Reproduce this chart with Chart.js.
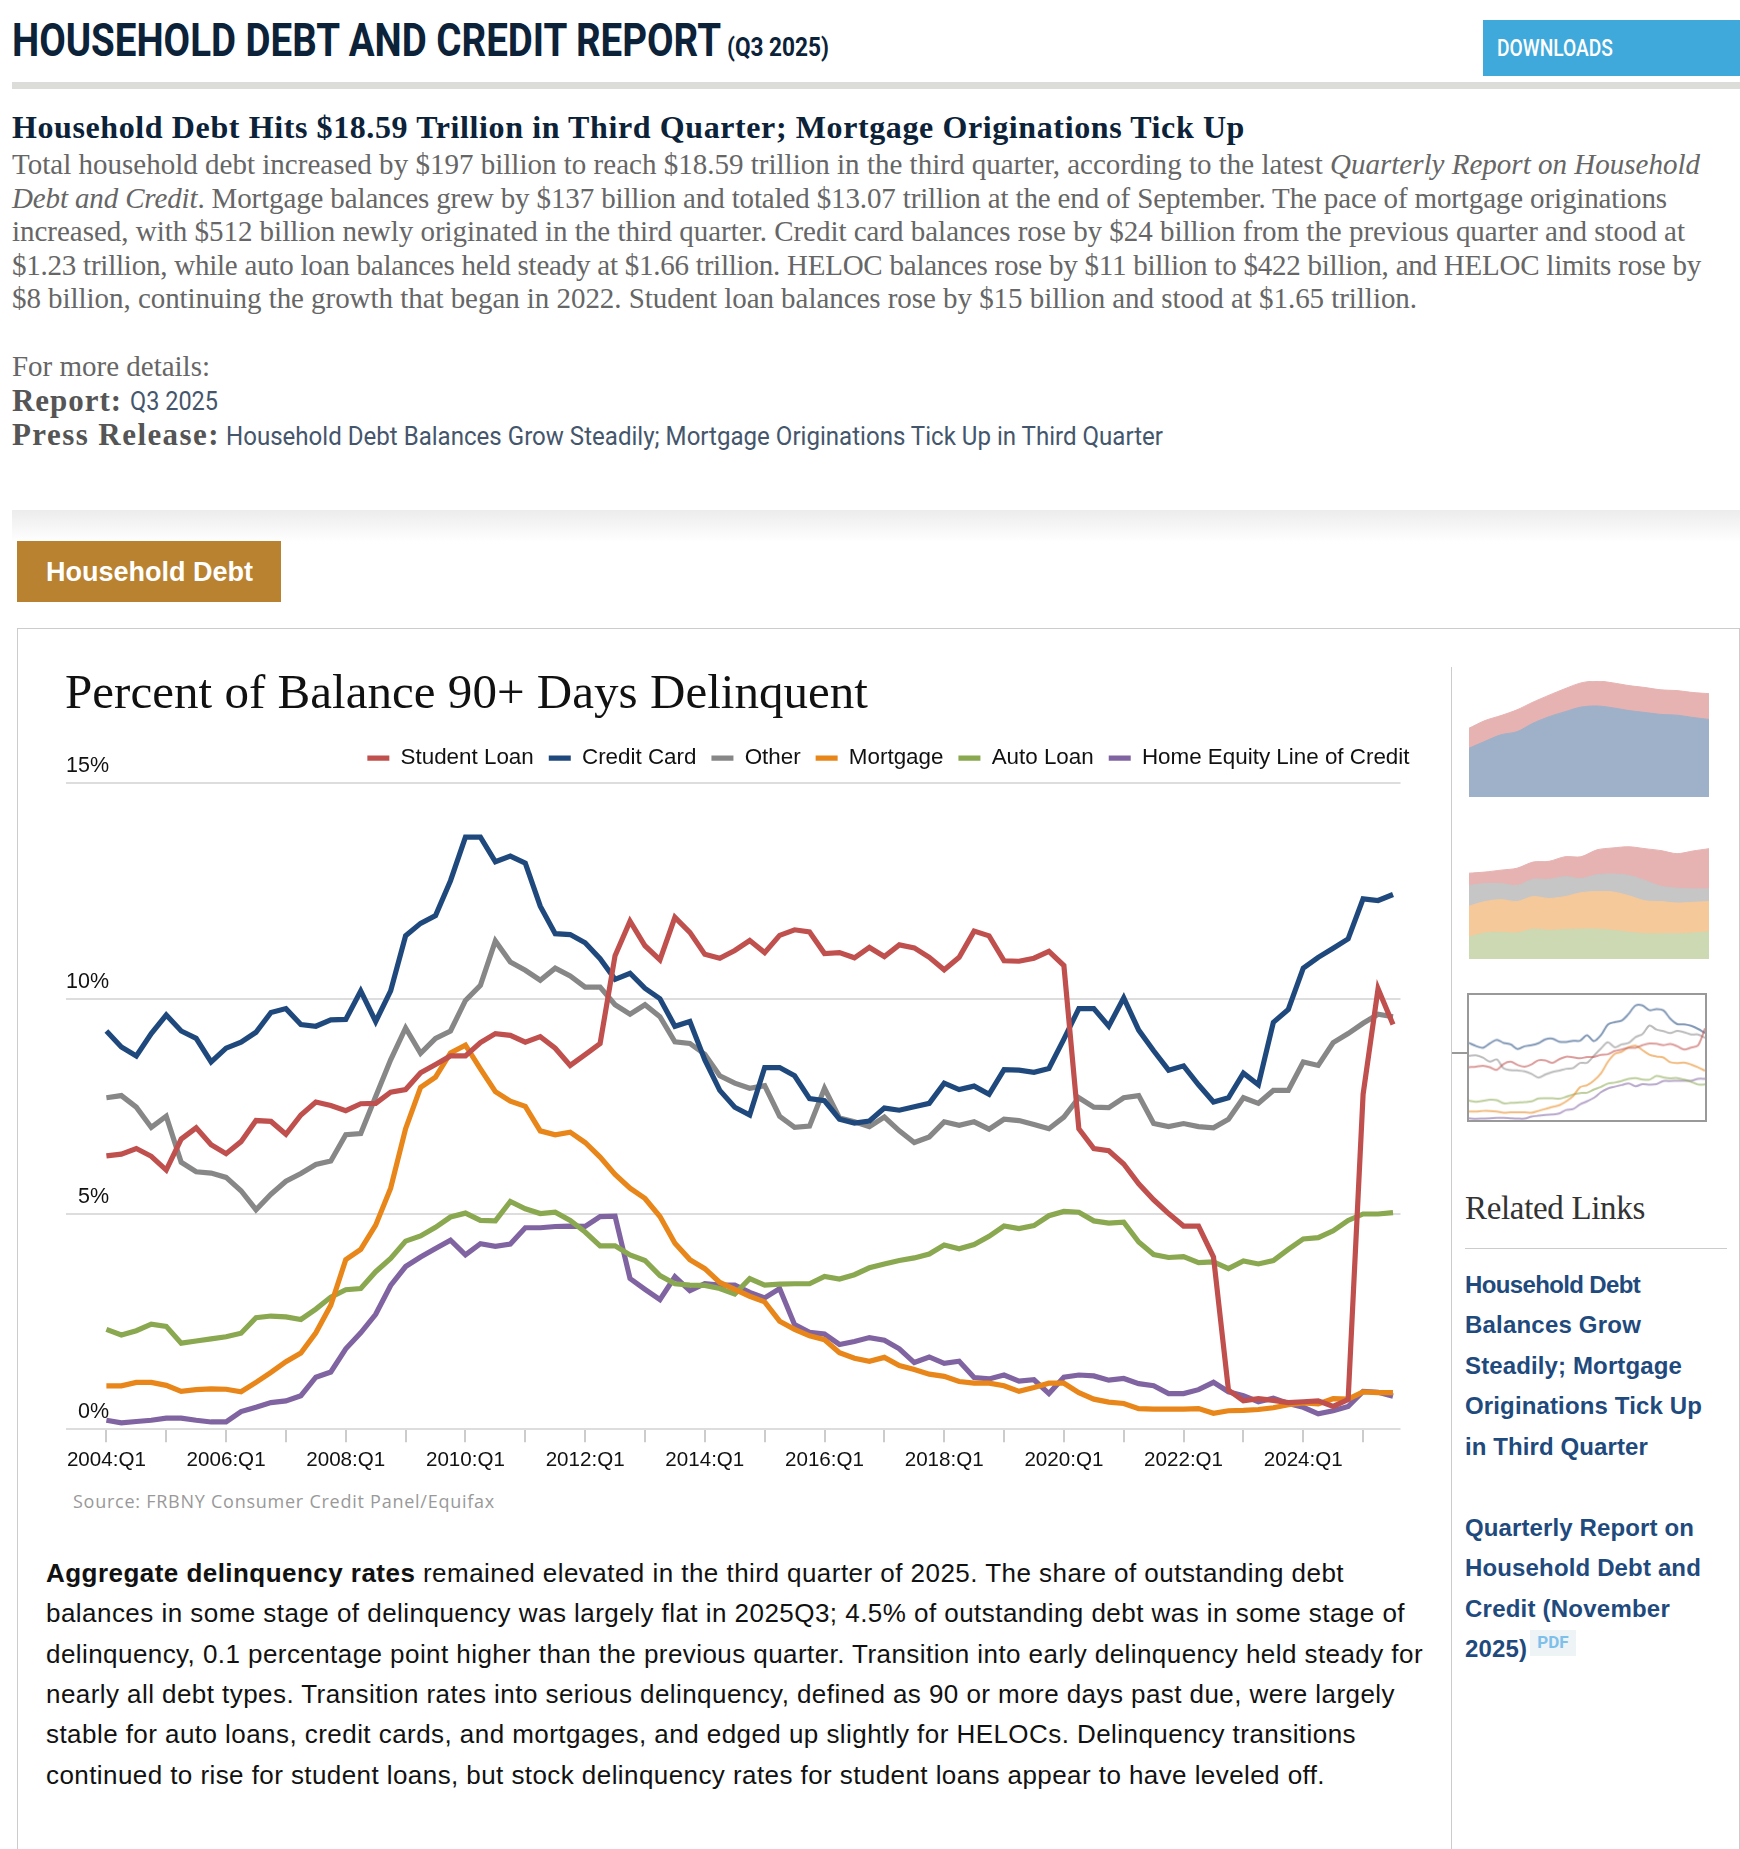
<!DOCTYPE html>
<html>
<head>
<meta charset="utf-8">
<title>Household Debt and Credit Report</title>
<script src="https://cdn.jsdelivr.net/npm/chart.js@4"></script>
<style>
  html, body { margin: 0; padding: 0; background: #fff; }
  body { position: relative; width: 1740px; height: 1849px; overflow: hidden; font-family: "Liberation Sans", Arial, sans-serif; }
  .abs { position: absolute; white-space: nowrap; }
  .narrow { font-family: Roboto, sans-serif; transform-origin: left center; }
  .serif { font-family: "Liberation Serif", Georgia, serif; }
  .box { position: absolute; }
  .body-line { left: 12px; font-size: 29px; line-height: 34px; color: #666; }
  .para { left: 46px; font-size: 26px; line-height: 40px; color: #111; }
  .link { left: 1465px; font-size: 24px; line-height: 40px; font-weight: bold; color: #1f4a7d; }
  canvas { position: absolute; }
</style>
</head>
<body>

<div class="abs narrow" data-s="709" style="left:12px;top:15px;font-size:46px;line-height:50px;font-weight:bold;color:#0b2239">HOUSEHOLD DEBT AND CREDIT REPORT</div>
<div class="abs narrow" data-s="102" style="left:727px;top:33px;font-size:25px;line-height:30px;font-weight:bold;color:#0b2239">(Q3 2025)</div>
<div class="box" style="left:1483px;top:20px;width:257px;height:56px;background:#3fa9dc"></div>
<div class="abs narrow" data-s="116" style="left:1497px;top:34px;font-size:24px;line-height:28px;font-weight:500;color:#fff">DOWNLOADS</div>
<div class="box" style="left:12px;top:82px;width:1728px;height:7px;background:#dcdcd8"></div>

<div class="abs serif" data-w="1233" style="left:12px;top:110px;font-size:32px;line-height:34px;font-weight:bold;color:#0b2239">Household Debt Hits $18.59 Trillion in Third Quarter; Mortgage Originations Tick Up</div>
<div class="abs serif body-line" data-w="1688" style="top:147px">Total household debt increased by $197 billion to reach $18.59 trillion in the third quarter, according to the latest <i>Quarterly Report on Household</i></div>
<div class="abs serif body-line" data-w="1655" style="top:181px"><i>Debt and Credit</i>. Mortgage balances grew by $137 billion and totaled $13.07 trillion at the end of September. The pace of mortgage originations</div>
<div class="abs serif body-line" data-w="1673" style="top:214px">increased, with $512 billion newly originated in the third quarter. Credit card balances rose by $24 billion from the previous quarter and stood at</div>
<div class="abs serif body-line" data-w="1689" style="top:248px">$1.23 trillion, while auto loan balances held steady at $1.66 trillion. HELOC balances rose by $11 billion to $422 billion, and HELOC limits rose by</div>
<div class="abs serif body-line" data-w="1405" style="top:281px">$8 billion, continuing the growth that began in 2022. Student loan balances rose by $15 billion and stood at $1.65 trillion.</div>

<div class="abs serif body-line" data-w="198" style="top:349px">For more details:</div>
<div class="abs serif" data-w="110" style="left:12px;top:384px;font-size:31px;line-height:34px;font-weight:bold;color:#555">Report:</div>
<div class="abs narrow" data-s="88" style="left:130px;top:386px;font-size:26px;line-height:30px;color:#44566c">Q3 2025</div>
<div class="abs serif" data-w="208" style="left:12px;top:418px;font-size:31px;line-height:34px;font-weight:bold;color:#555">Press Release:</div>
<div class="abs narrow" data-s="937" style="left:226px;top:421px;font-size:26px;line-height:30px;color:#44566c">Household Debt Balances Grow Steadily; Mortgage Originations Tick Up in Third Quarter</div>

<div class="box" style="left:12px;top:510px;width:1728px;height:32px;background:linear-gradient(#ececec,#fff)"></div>
<div class="box" style="left:17px;top:541px;width:264px;height:61px;background:#b98230"></div>
<div class="abs" data-w="207" style="left:46px;top:556px;font-size:27px;line-height:32px;font-weight:bold;color:#fff">Household Debt</div>

<div class="box" style="left:17px;top:628px;width:1721px;height:1230px;border:1px solid #ccc"></div>
<div class="box" style="left:1451px;top:667px;width:1px;height:1190px;background:#ccc"></div>

<div class="abs serif" data-w="803" style="left:65px;top:665px;font-size:49px;line-height:54px;color:#111">Percent of Balance 90+ Days Delinquent</div>

<canvas id="mainChart" width="1440" height="746" style="left:0;top:732px"></canvas>

<div class="abs" data-w="422" style="left:73px;top:1490px;font-family:'Open Sans';font-size:18px;line-height:22px;color:#999">Source: FRBNY Consumer Credit Panel/Equifax</div>

<div class="abs para" data-w="1298" style="top:1553px"><b>Aggregate delinquency rates</b> remained elevated in the third quarter of 2025. The share of outstanding debt</div>
<div class="abs para" data-w="1359" style="top:1593px">balances in some stage of delinquency was largely flat in 2025Q3; 4.5% of outstanding debt was in some stage of</div>
<div class="abs para" data-w="1377" style="top:1634px">delinquency, 0.1 percentage point higher than the previous quarter. Transition into early delinquency held steady for</div>
<div class="abs para" data-w="1349" style="top:1674px">nearly all debt types. Transition rates into serious delinquency, defined as 90 or more days past due, were largely</div>
<div class="abs para" data-w="1310" style="top:1714px">stable for auto loans, credit cards, and mortgages, and edged up slightly for HELOCs. Delinquency transitions</div>
<div class="abs para" data-w="1279" style="top:1755px">continued to rise for student loans, but stock delinquency rates for student loans appear to have leveled off.</div>

<canvas id="thumbBalance" width="240" height="116" style="left:1469px;top:681px"></canvas>
<canvas id="thumbMix" width="240" height="113" style="left:1469px;top:846px"></canvas>
<div class="box" style="left:1452px;top:1052px;width:15px;height:2px;background:#999"></div>
<canvas id="thumbDelinquent" width="240" height="129" style="left:1467px;top:993px;border:2px solid #999"></canvas>

<div class="abs serif" data-w="180" style="left:1465px;top:1189px;font-size:33px;line-height:38px;color:#333">Related Links</div>
<div class="box" style="left:1465px;top:1248px;width:262px;height:1px;background:#ccc"></div>

<div class="abs link" data-w="175" style="top:1265px">Household Debt</div>
<div class="abs link" data-w="176" style="top:1305px">Balances Grow</div>
<div class="abs link" data-w="217" style="top:1346px">Steadily; Mortgage</div>
<div class="abs link" data-w="237" style="top:1386px">Originations Tick Up</div>
<div class="abs link" data-w="183" style="top:1427px">in Third Quarter</div>
<div class="abs link" data-w="229" style="top:1508px">Quarterly Report on</div>
<div class="abs link" data-w="236" style="top:1548px">Household Debt and</div>
<div class="abs link" data-w="205" style="top:1589px">Credit (November</div>
<div class="abs link" data-w="62" style="top:1629px">2025)</div>
<div class="abs" style="left:1530px;top:1630px;width:46px;height:26px;background:#eef3f6;color:#7dc0ea;font:bold 17px/24px Roboto;text-align:center">PDF</div>

<script>
// percent of balance 90+ days delinquent, 2004:Q1 to 2025:Q3
const studentLoan = [6.35,6.39,6.52,6.34,6.02,6.74,7.0,6.61,6.4,6.68,7.17,7.15,6.85,7.3,7.6,7.52,7.4,7.56,7.57,7.83,7.89,8.28,8.47,8.67,8.67,8.98,9.19,9.15,8.99,9.12,8.85,8.45,8.7,8.96,11.0,11.8,11.23,10.9,11.89,11.54,11.03,10.94,11.12,11.35,11.07,11.47,11.6,11.55,11.05,11.07,10.95,11.19,10.98,11.25,11.18,10.96,10.67,10.96,11.57,11.46,10.88,10.87,10.94,11.1,10.77,6.98,6.52,6.47,6.16,5.7,5.33,5.01,4.72,4.72,4.0,0.91,0.66,0.71,0.67,0.62,0.64,0.66,0.53,0.69,7.78,10.23,9.4]
const creditCard = [9.25,8.88,8.67,9.19,9.62,9.25,9.08,8.53,8.85,8.99,9.22,9.68,9.77,9.4,9.36,9.51,9.52,10.18,9.47,10.18,11.46,11.75,11.93,12.74,13.75,13.75,13.18,13.31,13.15,12.15,11.51,11.49,11.3,10.93,10.45,10.59,10.24,10.0,9.36,9.47,8.58,7.87,7.48,7.3,8.4,8.4,8.21,7.68,7.63,7.2,7.11,7.16,7.46,7.41,7.49,7.57,8.04,7.89,7.97,7.78,8.35,8.34,8.29,8.38,9.06,9.77,9.77,9.36,10.02,9.27,8.79,8.34,8.44,8.0,7.6,7.7,8.27,8.0,9.45,9.75,10.71,10.96,11.17,11.39,12.32,12.28,12.42]
const other = [7.7,7.75,7.48,7.01,7.27,6.2,5.98,5.95,5.85,5.54,5.1,5.46,5.76,5.94,6.15,6.23,6.84,6.87,7.73,8.58,9.32,8.73,9.08,9.25,9.96,10.31,11.34,10.85,10.66,10.43,10.71,10.53,10.27,10.27,9.86,9.64,9.86,9.58,9.0,8.96,8.71,8.21,8.04,7.92,7.98,7.27,7.01,7.04,7.92,7.23,7.14,7.03,7.25,6.93,6.66,6.79,7.14,7.06,7.14,6.97,7.2,7.17,7.08,6.98,7.25,7.7,7.48,7.47,7.7,7.75,7.1,7.03,7.1,7.03,7.0,7.2,7.7,7.57,7.87,7.87,8.53,8.45,8.98,9.19,9.43,9.64,9.58]
const mortgage = [1.01,1.01,1.09,1.09,1.02,0.88,0.92,0.94,0.93,0.87,1.09,1.32,1.57,1.77,2.24,2.88,3.94,4.18,4.74,5.6,6.98,7.94,8.18,8.74,8.92,8.37,7.84,7.62,7.5,6.93,6.84,6.9,6.66,6.32,5.92,5.6,5.36,4.94,4.32,3.94,3.73,3.41,3.25,3.09,2.96,2.51,2.32,2.17,2.08,1.78,1.65,1.58,1.67,1.48,1.39,1.28,1.23,1.11,1.07,1.07,1.01,0.88,0.97,1.07,1.07,0.85,0.7,0.63,0.6,0.48,0.47,0.47,0.47,0.48,0.37,0.43,0.44,0.46,0.5,0.57,0.61,0.59,0.71,0.7,0.87,0.85,0.85]
const autoLoan = [2.32,2.19,2.29,2.44,2.39,2.0,2.05,2.1,2.15,2.23,2.59,2.63,2.61,2.55,2.79,3.07,3.24,3.27,3.66,3.97,4.37,4.49,4.69,4.93,5.02,4.85,4.84,5.29,5.12,5.01,5.04,4.85,4.58,4.26,4.26,4.05,3.92,3.57,3.38,3.35,3.34,3.27,3.14,3.5,3.35,3.37,3.38,3.38,3.55,3.49,3.59,3.75,3.84,3.92,3.98,4.07,4.28,4.19,4.29,4.48,4.72,4.66,4.73,4.96,5.06,5.04,4.84,4.79,4.81,4.35,4.06,3.99,4.01,3.87,3.89,3.73,3.91,3.84,3.92,4.18,4.42,4.45,4.61,4.85,5.0,5.0,5.03]
const heloc = [0.21,0.15,0.18,0.21,0.26,0.26,0.21,0.17,0.17,0.41,0.51,0.62,0.66,0.78,1.21,1.33,1.87,2.24,2.67,3.34,3.78,4.0,4.2,4.39,4.05,4.31,4.25,4.3,4.68,4.68,4.71,4.72,4.71,4.94,4.95,3.5,3.25,3.01,3.54,3.22,3.38,3.35,3.35,3.18,3.05,3.27,2.43,2.25,2.21,1.97,2.04,2.13,2.07,1.87,1.55,1.68,1.53,1.58,1.2,1.17,1.26,1.12,1.15,0.83,1.21,1.26,1.24,1.14,1.18,1.06,1.01,0.83,0.83,0.92,1.09,0.87,0.78,0.64,0.72,0.6,0.51,0.36,0.43,0.53,0.88,0.86,0.77]

const tickLabels = ['2004:Q1','','2006:Q1','','2008:Q1','','2010:Q1','','2012:Q1','','2014:Q1','','2016:Q1','','2018:Q1','','2020:Q1','','2022:Q1','','2024:Q1','']
const yTicks = [0, 5, 10, 15]

// thumbnails on the right, top edge of each band (0 to about 300)
const thumbBalanceTotal = [179,199,212,227,247,265,282,297,302,297,290,285,279,277,272,269]
const thumbBalanceHousing = [127,145,162,170,192,209,222,234,237,232,225,220,215,213,207,202]
const thumbMixCard = [224,227,232,237,253,255,267,267,285,290,293,288,283,275,282,288]
const thumbMixOther = [192,197,197,192,208,208,215,210,220,222,218,205,190,185,183,183]
const thumbMixHousing = [138,150,155,150,163,158,163,173,176,175,165,152,150,146,148,150]
const thumbMixAuto = [58,68,70,68,78,75,77,78,78,75,70,66,66,66,68,71]

const series = [
    { label: 'Student Loan', values: studentLoan, color: '#c0504d' },
    { label: 'Credit Card', values: creditCard, color: '#1f497d' },
    { label: 'Other', values: other, color: '#878787' },
    { label: 'Mortgage', values: mortgage, color: '#e8861a' },
    { label: 'Auto Loan', values: autoLoan, color: '#8aa84f' },
    { label: 'Home Equity Line of Credit', values: heloc, color: '#8064a2' }
]

// stretch every text line to the width it has in the reference
document.querySelectorAll('[data-w]').forEach(el => {
    const natural = el.getBoundingClientRect().width
    el.style.letterSpacing = (Number(el.dataset.w) - natural) / el.textContent.length + 'px'
})
// no condensed font here, so squeeze Roboto instead
document.querySelectorAll('[data-s]').forEach(el => {
    const natural = el.getBoundingClientRect().width
    el.style.transform = 'scaleX(' + Number(el.dataset.s) / natural + ')'
})

Chart.defaults.animation = false
Chart.defaults.responsive = false
Chart.defaults.plugins.tooltip.enabled = false
Chart.defaults.font.family = '"Liberation Sans", Arial, sans-serif'

new Chart(document.getElementById('mainChart'), {
    type: 'line',
    data: {
        datasets: series.map(s => ({
            label: s.label,
            data: s.values.map((v, i) => ({ x: i, y: v })),
            borderColor: s.color,
            backgroundColor: s.color,
            borderWidth: 5.2,
            pointRadius: 0,
            tension: 0,
            borderJoinStyle: 'miter'
        }))
    },
    options: {
        layout: { padding: { left: 66, right: 15 } },
        plugins: {
            legend: {
                position: 'top',
                align: 'end',
                labels: {
                    color: '#111',
                    font: { size: 22.4 },
                    usePointStyle: true,
                    pointStyle: 'line',
                    pointStyleWidth: 22,
                    boxHeight: 22,
                    padding: 15
                }
            }
        },
        scales: {
            x: {
                type: 'linear',
                min: -2.7,
                max: 86.5,
                afterBuildTicks: axis => {
                    axis.ticks = tickLabels.map((_, i) => ({ value: i * 4 }))
                },
                border: { display: false },
                grid: { drawOnChartArea: false, drawTicks: true, tickLength: 13, tickColor: '#ccc', lineWidth: 2 },
                ticks: {
                    color: '#111',
                    font: { size: 20.6 },
                    padding: 5.5,
                    autoSkip: false,
                    maxRotation: 0,
                    callback: (value, index) => tickLabels[index]
                }
            },
            y: {
                min: 0,
                max: 15,
                afterBuildTicks: axis => {
                    axis.ticks = yTicks.map(v => ({ value: v }))
                },
                border: { display: false },
                grid: { color: '#ddd', lineWidth: 2, drawTicks: false },
                ticks: {
                    mirror: true,
                    crossAlign: 'far',
                    padding: 0,
                    labelOffset: -17,
                    color: '#111',
                    font: { size: 21.5 },
                    callback: v => v + '%'
                }
            },
            // empty axis, only here so the legend can run past the plot on the right
            spacer: {
                position: 'right',
                afterFit: axis => { axis.width = 24.5 },
                border: { display: false },
                grid: { display: false },
                ticks: { display: false }
            }
        }
    },
    plugins: [{
        // a bit more room between the legend row and the 15% line
        id: 'legendGap',
        beforeInit(chart) {
            const fit = chart.legend.fit
            chart.legend.fit = function () {
                fit.call(this)
                this.height += 4
                // rounding pushed the last legend item onto a second row without this
                this.lineWidths[0] += 0.5
            }
        }
    }]
})

function areaThumb(id, max, bands) {
    new Chart(document.getElementById(id), {
        type: 'line',
        data: {
            labels: bands[0].values.map((_, i) => i),
            datasets: bands.map(b => ({
                data: b.values,
                fill: 'origin',
                backgroundColor: b.color,
                borderColor: b.color,
                borderWidth: 1,
                pointRadius: 0,
                tension: 0.3
            }))
        },
        options: {
            layout: { padding: 0 },
            plugins: { legend: { display: false } },
            scales: {
                x: { display: false },
                y: { display: false, min: 0, max: max }
            }
        }
    })
}

// first dataset is painted last, so smallest band goes first
areaThumb('thumbBalance', 302, [
    { values: thumbBalanceHousing, color: '#9fb1c8' },
    { values: thumbBalanceTotal, color: '#e6b3b2' }
])
areaThumb('thumbMix', 295, [
    { values: thumbMixAuto, color: '#cdd9b2' },
    { values: thumbMixHousing, color: '#f6c99a' },
    { values: thumbMixOther, color: '#c6c6c6' },
    { values: thumbMixCard, color: '#e6b3b2' }
])

new Chart(document.getElementById('thumbDelinquent'), {
    type: 'line',
    data: {
        labels: studentLoan.slice(0, 35).map((_, i) => i),
        datasets: series.map(s => ({
            data: s.values.slice(0, 35),
            borderColor: s.color + '90',
            borderWidth: 2,
            pointRadius: 0,
            tension: 0.3
        }))
    },
    options: {
        layout: { padding: 0 },
        plugins: { legend: { display: false } },
        scales: {
            x: { display: false },
            y: { display: false, min: 0, max: 15 }
        }
    }
})
</script>
</body>
</html>
